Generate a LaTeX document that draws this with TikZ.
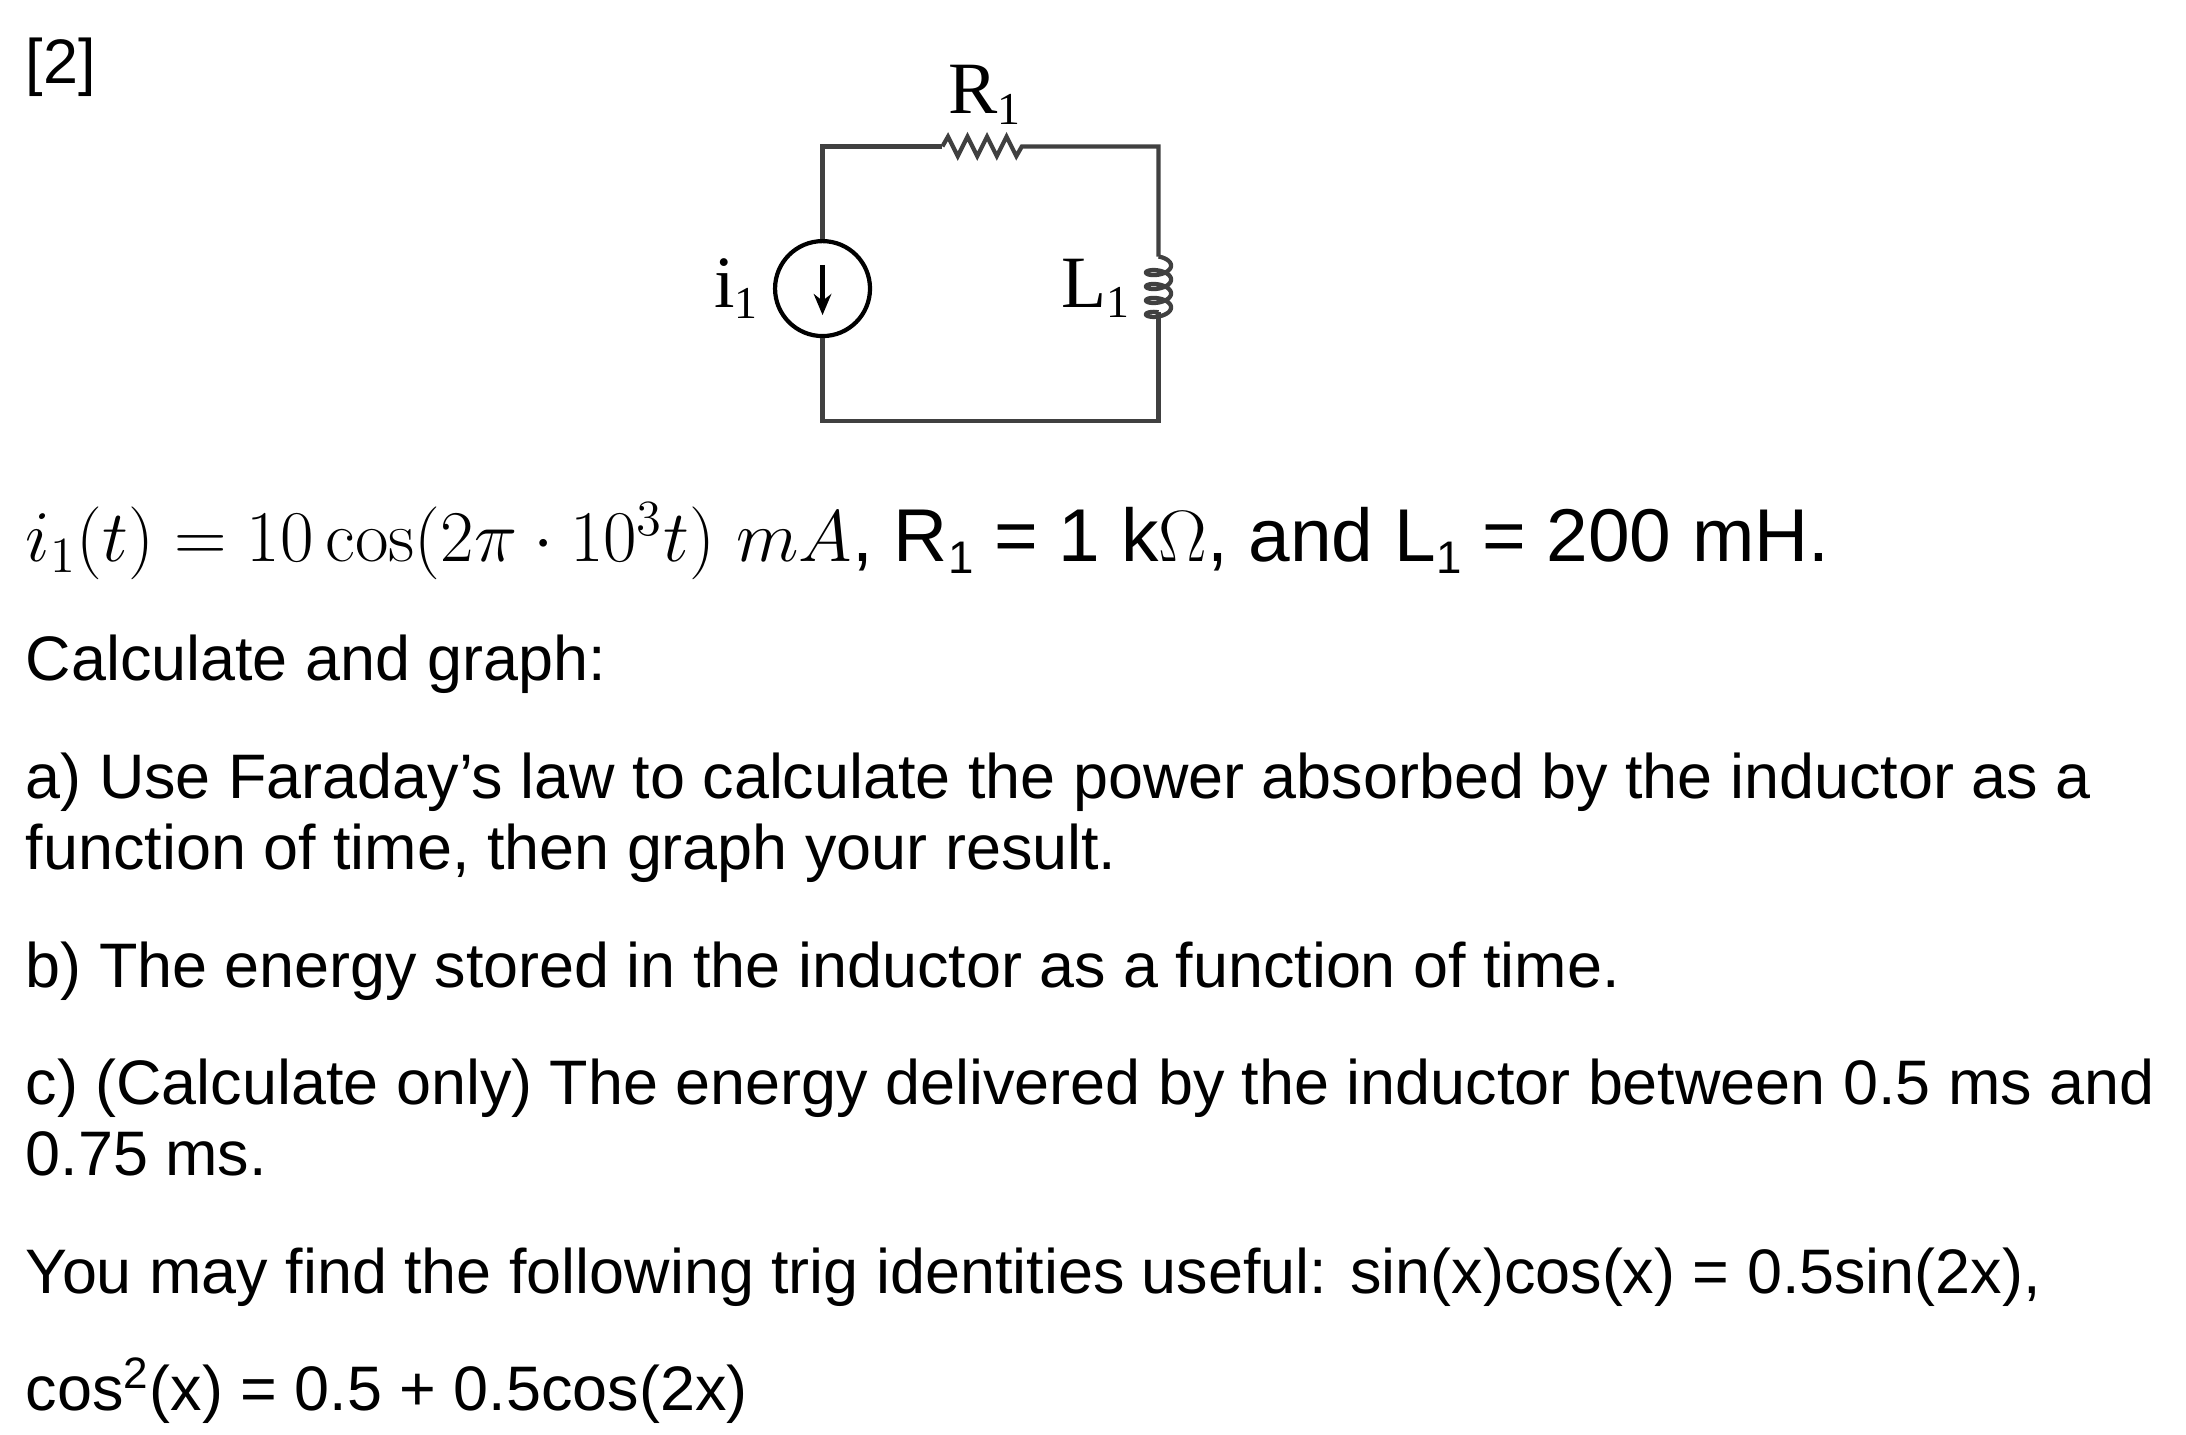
\documentclass[tikz,border=0pt]{standalone}
\usepackage[no-math]{fontspec}
\setmainfont{Liberation Sans}
\newfontfamily\serifcirc{Liberation Serif}
\usetikzlibrary{arrows.meta}
\newcommand{\sbone}{\raisebox{-0.3ex}{\fontsize{13}{13}\selectfont 1}}
\begin{document}
\begin{tikzpicture}[x=0.01394cm,y=-0.01394cm,
  txt/.style={anchor=base west,inner sep=0pt,font=\fontsize{17.9}{20}\selectfont},
  lbl/.style={inner sep=0pt,font=\serifcirc\fontsize{21}{24}\selectfont},
  wire/.style={line width=1.2pt,black!75}]
\useasboundingbox (0,0) rectangle (1568,1029);
% circuit
\coordinate (tl) at (590,105); \coordinate (tr) at (831,105);
\coordinate (bl) at (590,302); \coordinate (br) at (831,302);
\node[circle,draw,line width=1.2pt,minimum size=0.95cm,inner sep=0pt] (src) at (590,207) {};
\draw[wire] (src.north) -- (tl) -- (676,105);
\draw[wire] (676,105) -- (680,98) -- (687,112) -- (694,98) -- (701,112) -- (708,98) -- (715,112) -- (722,98) -- (729,112) -- (733,105) -- (tr) -- (831,184);
\draw[wire] plot[domain=0:1440,samples=200] ({831+9*sin(\x)}, {184+ 10*\x/360 + 4-4*cos(\x)});
\draw[wire] (831,224) -- (br) -- (bl) -- (src.south);
\draw[line width=1.2pt,-{Stealth[length=6pt,width=5pt]}] (590,190) -- (590,226);
\node[lbl] (r1) at (706,68) {R\sbone};
\node[lbl] (i1) at (528,207) {i\sbone};
\node[lbl] (l1) at (786,207) {L\sbone};
% text
\node[txt] (t0) at (18,60) {[2]};
\node[txt,font=\fontsize{21.3}{22}\selectfont] (t1) at (18,403) {{\fontsize{22}{24}\selectfont$i_1(t)=10\cos(2\pi\cdot10^3t)\ mA$}, R\sbone{} = 1 k$\Omega$, and L\sbone{} = 200 mH.};
\node[txt] (t2) at (18,488) {Calculate and graph:};
\node[txt] (t3) at (18,573) {a) Use Faraday’s law to calculate the power absorbed by the inductor as a};
\node[txt] (t4) at (18,624) {function of time, then graph your result.};
\node[txt] (t5) at (18,708) {b) The energy stored in the inductor as a function of time.};
\node[txt] (t6) at (18,792) {c) (Calculate only) The energy delivered by the inductor between 0.5 ms and};
\node[txt] (t7) at (18,843) {0.75 ms.};
\node[txt] (t8) at (18,928) {You may find the following trig identities useful: sin(x)cos(x) = 0.5sin(2x),};
\node[txt] (t9) at (18,1012) {cos\textsuperscript{2}(x) = 0.5 + 0.5cos(2x)};
\end{tikzpicture}
\end{document}
